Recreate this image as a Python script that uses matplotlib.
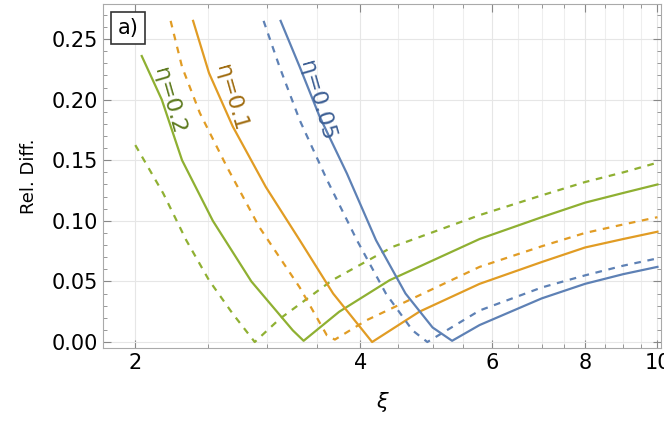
import matplotlib.pyplot as plt
from matplotlib.ticker import FixedLocator, NullFormatter

# data
gs_x = [2.04, 2.17, 2.31, 2.54, 2.86, 3.25, 3.36, 3.75, 4.38, 5.78, 7, 8, 9, 10]
gs_y = [0.236, 0.2, 0.15, 0.10, 0.05, 0.0096, 0.001, 0.025, 0.051, 0.085, 0.103, 0.115, 0.123, 0.13]
gd_x = [2.0, 2.18, 2.34, 2.51, 2.70, 2.89, 3.12, 3.67, 4.42, 5.78, 7, 8, 9, 10]
gd_y = [0.1625, 0.1226, 0.084, 0.051, 0.0234, 0.0, 0.019, 0.051, 0.0785, 0.1047, 0.121, 0.132, 0.14, 0.148]
os_x = [2.39, 2.51, 2.70, 2.99, 3.32, 3.68, 4.15, 4.8, 5.78, 7, 8, 9, 10]
os_y = [0.265, 0.222, 0.178, 0.128, 0.084, 0.04, 0.0, 0.025, 0.048, 0.066, 0.078, 0.085, 0.091]
od_x = [2.23, 2.31, 2.44, 2.65, 2.93, 3.32, 3.61, 3.7, 4.08, 5.78, 7, 8, 9, 10]
od_y = [0.265, 0.227, 0.189, 0.145, 0.095, 0.045, 0.0055, 0.002, 0.018, 0.062, 0.079, 0.09, 0.097, 0.103]
bs_x = [3.13, 3.32, 3.53, 3.84, 4.2, 4.6, 5.0, 5.31, 5.78, 7, 8, 9, 10]
bs_y = [0.265, 0.227, 0.186, 0.139, 0.084, 0.04, 0.012, 0.001, 0.014, 0.036, 0.048, 0.056, 0.062]
bd_x = [2.97, 3.12, 3.32, 3.61, 3.96, 4.33, 4.70, 4.92, 5.78, 7, 8, 9, 10]
bd_y = [0.265, 0.227, 0.183, 0.134, 0.084, 0.04, 0.0096, 0.0, 0.026, 0.045, 0.055, 0.063, 0.069]

green, orange, blue = "#8fb032", "#e19c24", "#5e81b5"

fig = plt.figure(figsize=(6.64, 4.34), dpi=100)
ax = fig.add_axes([0.155, 0.198, 0.84, 0.793])
ax.set_xscale("log")

ax.plot(gs_x, gs_y, color=green, lw=1.6)
ax.plot(gd_x, gd_y, color=green, lw=1.6, ls=(0, (3, 3)))
ax.plot(os_x, os_y, color=orange, lw=1.6)
ax.plot(od_x, od_y, color=orange, lw=1.6, ls=(0, (3, 3)))
ax.plot(bs_x, bs_y, color=blue, lw=1.6)
ax.plot(bd_x, bd_y, color=blue, lw=1.6, ls=(0, (3, 3)))

ax.text(2.22, 0.199, "η=0.2", color="#5d7a1e", rotation=-74, fontsize=16, ha="center", va="center")
ax.text(2.69, 0.201, "η=0.1", color="#a06c10", rotation=-74, fontsize=16, ha="center", va="center")
ax.text(3.50, 0.199, "η=0.05", color="#3d5f94", rotation=-74, fontsize=16, ha="center", va="center")

ax.text(0.045, 0.93, "a)", transform=ax.transAxes, fontsize=15, ha="center", va="center",
        bbox=dict(boxstyle="square,pad=0.3", fc="white", ec="#333333", lw=1.2))

ax.set_xlim(1.81, 10.1)
ax.set_ylim(-0.005, 0.279)
ax.xaxis.set_major_locator(FixedLocator([2, 4, 6, 8, 10]))
ax.xaxis.set_minor_locator(FixedLocator([2.5, 3, 3.5, 4.5, 5, 5.5, 6.5, 7, 7.5, 8.5, 9, 9.5]))
ax.xaxis.set_minor_formatter(NullFormatter())
ax.set_xticklabels(["2", "4", "6", "8", "10"])
ax.set_yticks([0, 0.05, 0.1, 0.15, 0.2, 0.25])
ax.set_yticks([0.01 * i for i in range(28) if i % 5], minor=True)
ax.set_yticklabels(["0.00", "0.05", "0.10", "0.15", "0.20", "0.25"])
ax.tick_params(which="both", direction="in", top=True, right=True, labelsize=15, color="#888888")
ax.tick_params(which="major", length=6)
ax.tick_params(which="minor", length=3)
ax.grid(True, which="major", color="#e6e6e6", lw=0.8)
ax.grid(True, which="minor", axis="x", color="#eeeeee", lw=0.8)
for s in ax.spines.values():
    s.set_color("#aaaaaa")

ax.set_xlabel("ξ", fontsize=15, style="italic", labelpad=14)
ax.set_ylabel("Rel. Diff.", fontsize=13, labelpad=10)

fig.savefig("out.png")
